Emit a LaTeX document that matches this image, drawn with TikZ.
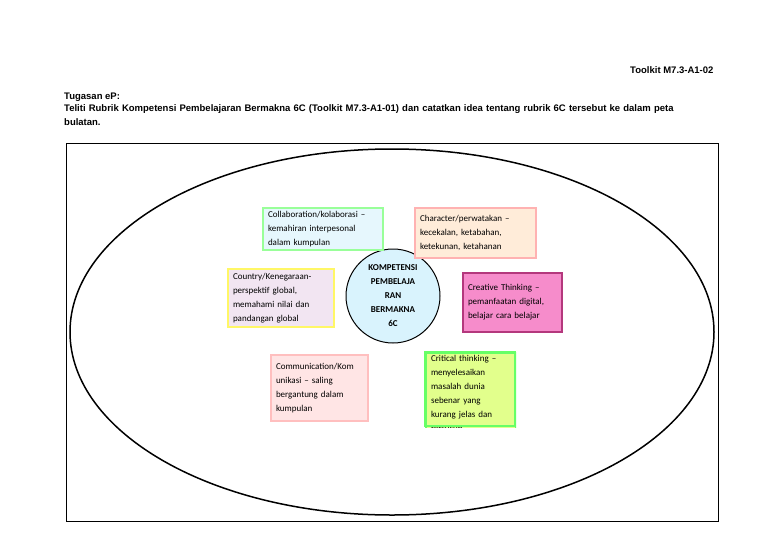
\documentclass[tikz,border=0pt]{standalone}
\usepackage{fontspec}
\setmainfont{Liberation Sans}
\newfontfamily\boxfont[Ligatures=TeX]{Carlito}
\begin{document}
\begin{tikzpicture}[x=1pt,y=-1pt,
  box/.style={draw=#1,line width=2pt,inner xsep=5pt,inner ysep=2pt,anchor=north west,align=left,font=\boxfont\fontsize{9}{14}\selectfont},
  hdr/.style={font=\bfseries\fontsize{9.5}{14}\selectfont,anchor=west}]
\useasboundingbox[fill=white] (0,0) rectangle (768,544);
\node[hdr,anchor=east] (tk) at (717,70) {Toolkit M7.3-A1-02};
\node[hdr,inner sep=0pt] (t1) at (64,97) {Tugasan eP:};
\node[hdr,anchor=north west,align=left,text width=680pt,inner sep=0pt] (t2) at (64,104) {Teliti Rubrik Kompetensi Pembelajaran Bermakna 6C (Toolkit M7.3-A1-01) dan catatkan idea tentang rubrik 6C tersebut ke dalam peta\\bulatan.};
\draw[line width=1pt] (66,143) rectangle (718,521);
\draw[line width=1.5pt] (392,332) ellipse [x radius=322, y radius=183];
\node[draw=black,fill=cyan!15,circle,minimum size=94pt,line width=1pt,align=center,font=\boxfont\bfseries\fontsize{9}{14}\selectfont] (c) at (393,296) {KOMPETENSI\\PEMBELAJA\\RAN\\BERMAKNA\\6C};
\node[box=green!40,fill=cyan!10,text width=110pt,minimum height=42pt] (a) at (262,207) {Collaboration/kolaborasi –\\kemahiran interpesonal\\dalam kumpulan};
\node[box=red!30,fill=orange!15,text width=111pt,minimum height=50pt] (b) at (414,207) {Character/perwatakan –\\kecekalan, ketabahan,\\ketekunan, ketahanan};
\node[box=yellow!60,fill=violet!10,text width=96pt,minimum height=58pt] (d) at (227,268) {Country/Kenegaraan-\\perspektif global,\\memahami nilai dan\\pandangan global};
\node[box=magenta!70!black,fill=magenta!45,text width=89pt,minimum height=59pt] (e) at (462,272) {Creative Thinking –\\pemanfaatan digital,\\belajar cara belajar};
\node[box=red!25,fill=red!10,text width=87pt,minimum height=66pt] (f) at (270,354) {Communication/Kom\\unikasi – saling\\bergantung dalam\\kumpulan};
\begin{scope}
\clip (424,351) rectangle (516,427);
\node[box=green!60,fill=lime!45,text width=80pt,minimum height=74pt] (g) at (425,352) {Critical thinking –\\menyelesaikan\\masalah dunia\\sebenar yang\\kurang jelas dan\\tersusun};
\end{scope}
\draw[green!60,line width=2pt] (425,352) rectangle (515,426);
\end{tikzpicture}
\end{document}
